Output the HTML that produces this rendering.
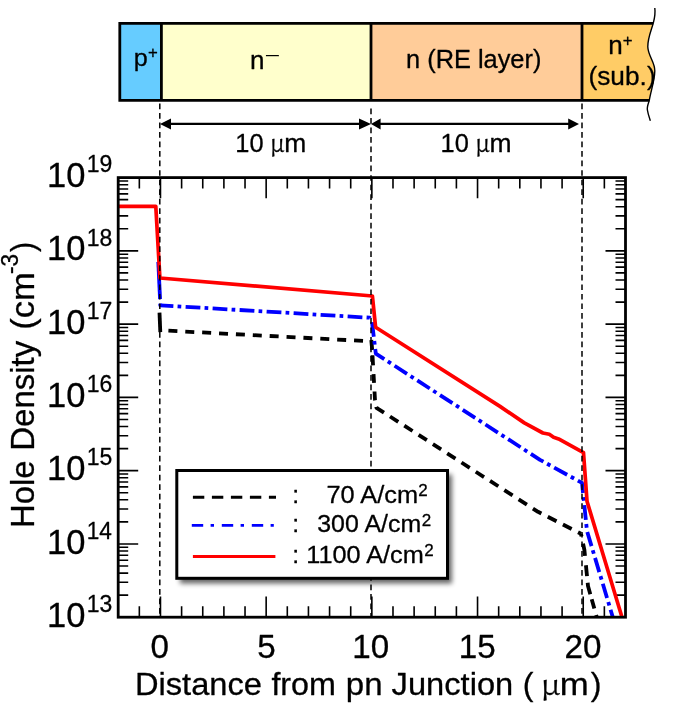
<!DOCTYPE html>
<html><head><meta charset="utf-8"><title>Hole Density vs Distance from pn Junction</title>
<style>
html,body{margin:0;padding:0;background:#fff;}
svg{display:block}
text{font-family:"Liberation Sans",Arial,sans-serif;fill:#000;stroke:#000;stroke-width:0.3px;stroke-linejoin:round}
.mu{font-family:"Noto Serif CJK SC","Liberation Serif",serif;stroke-width:0.3px}
</style></head><body>
<svg width="700" height="703" viewBox="0 0 700 703">
<defs>
<filter id="sh" x="-10%" y="-10%" width="130%" height="140%"><feGaussianBlur stdDeviation="2.4"/></filter>
</defs>
<rect width="700" height="703" fill="#fff"/>

<g id="structure">
<rect x="119.8" y="23.4" width="41.6" height="77.0" fill="#66ccff"/>
<rect x="161" y="23.4" width="210" height="77.0" fill="#ffffcc"/>
<rect x="371" y="23.4" width="211" height="77.0" fill="#ffcc99"/>
<path d="M582,23.4 L653.2,23.4 C651.5,30 647.6,38 647.8,46.8 C648,56 655,62 654.8,71 C654.6,81 650.5,92 649.3,100.4 L582,100.4 Z" fill="#ffcc66"/>
<path d="M653.2,23.4 L119.8,23.4 L119.8,100.4 L649.3,100.4" fill="none" stroke="#000" stroke-width="2.8" stroke-linejoin="miter"/>
<line x1="161.4" y1="23.4" x2="161.4" y2="100.4" stroke="#000" stroke-width="2.8"/>
<line x1="371" y1="23.4" x2="371" y2="100.4" stroke="#000" stroke-width="2.8"/>
<line x1="582" y1="23.4" x2="582" y2="100.4" stroke="#000" stroke-width="2.8"/>
<path d="M654.8,8 C655.6,14 654.6,18 653.4,22.6 C651.5,30 647.6,38 647.8,46.8 C648,56 655,62 654.8,71 C654.6,81 650.5,92 649.3,100.4 C648.2,104 646.8,107 647.4,110 C648,114 649.5,118 650.4,120.8" fill="none" stroke="#000" stroke-width="1.4"/>
<text transform="translate(133.83,66) scale(1.0186,1)" font-size="24.7">p</text>
<text x="148.11" y="58.2" font-size="16.8">+</text>
<text x="249.88" y="69.4" font-size="26">n</text>
<text transform="translate(266,60.1) scale(1.2840,1)" font-size="18" style="stroke-width:0.1px">–</text>
<text transform="translate(406.01,67.7) scale(1.0153,1)" font-size="25">n (RE layer)</text>
<text transform="translate(608.27,53.9) scale(1.0299,1)" font-size="25.3">n</text>
<text x="622.81" y="46.3" font-size="16.8">+</text>
<text transform="translate(588.47,85.2) scale(1.0431,1)" font-size="25.2">(sub.)</text>
</g>
<g id="dims">
<line x1="168" y1="123.9" x2="363" y2="123.9" stroke="#000" stroke-width="2.3"/><path d="M160,123.9 l11,-5.5 v11 Z M371,123.9 l-12,-5.5 v11 Z" fill="#000"/>
<line x1="379" y1="123.9" x2="571" y2="123.9" stroke="#000" stroke-width="2.3"/><path d="M371,123.9 l9.6,-5.5 v11 Z M579,123.9 l-10.8,-5.5 v11 Z" fill="#000"/>
<text x="235.28" y="152" font-size="25.4">10</text>
<text class="mu" transform="translate(270,152.1) scale(0.9697,1)" font-size="24.2">μ</text>
<text transform="translate(284.15,152) scale(1.0407,1)" font-size="25.4">m</text>
<text x="440.58" y="152" font-size="25.4">10</text>
<text class="mu" transform="translate(475.3,152.1) scale(0.9697,1)" font-size="24.2">μ</text>
<text transform="translate(489.45,152) scale(1.0407,1)" font-size="25.4">m</text>
</g>
<g id="ticks" stroke="#000" stroke-width="1.6" fill="none">
<path d="M139.34,617.2v-11M139.34,177.6v11M160.47,617.2v-20.6M160.47,177.6v20.6M181.61,617.2v-11M181.61,177.6v11M202.75,617.2v-11M202.75,177.6v11M223.89,617.2v-11M223.89,177.6v11M245.03,617.2v-11M245.03,177.6v11M266.16,617.2v-20.6M266.16,177.6v20.6M287.3,617.2v-11M287.3,177.6v11M308.44,617.2v-11M308.44,177.6v11M329.57,617.2v-11M329.57,177.6v11M350.71,617.2v-11M350.71,177.6v11M371.85,617.2v-20.6M371.85,177.6v20.6M392.99,617.2v-11M392.99,177.6v11M414.12,617.2v-11M414.12,177.6v11M435.26,617.2v-11M435.26,177.6v11M456.4,617.2v-11M456.4,177.6v11M477.54,617.2v-20.6M477.54,177.6v20.6M498.67,617.2v-11M498.67,177.6v11M519.81,617.2v-11M519.81,177.6v11M540.95,617.2v-11M540.95,177.6v11M562.09,617.2v-11M562.09,177.6v11M583.23,617.2v-20.6M583.23,177.6v20.6M604.36,617.2v-11M604.36,177.6v11M118.2,595.14h10M625.5,595.14h-10M118.2,582.24h10M625.5,582.24h-10M118.2,573.09h10M625.5,573.09h-10M118.2,565.99h10M625.5,565.99h-10M118.2,560.19h10M625.5,560.19h-10M118.2,555.28h10M625.5,555.28h-10M118.2,551.03h10M625.5,551.03h-10M118.2,547.29h10M625.5,547.29h-10M118.2,543.93h20M625.5,543.93h-20M118.2,521.88h10M625.5,521.88h-10M118.2,508.98h10M625.5,508.98h-10M118.2,499.82h10M625.5,499.82h-10M118.2,492.72h10M625.5,492.72h-10M118.2,486.92h10M625.5,486.92h-10M118.2,482.02h10M625.5,482.02h-10M118.2,477.77h10M625.5,477.77h-10M118.2,474.02h10M625.5,474.02h-10M118.2,470.67h20M625.5,470.67h-20M118.2,448.61h10M625.5,448.61h-10M118.2,435.71h10M625.5,435.71h-10M118.2,426.56h10M625.5,426.56h-10M118.2,419.46h10M625.5,419.46h-10M118.2,413.65h10M625.5,413.65h-10M118.2,408.75h10M625.5,408.75h-10M118.2,404.5h10M625.5,404.5h-10M118.2,400.75h10M625.5,400.75h-10M118.2,397.4h20M625.5,397.4h-20M118.2,375.34h10M625.5,375.34h-10M118.2,362.44h10M625.5,362.44h-10M118.2,353.29h10M625.5,353.29h-10M118.2,346.19h10M625.5,346.19h-10M118.2,340.39h10M625.5,340.39h-10M118.2,335.48h10M625.5,335.48h-10M118.2,331.23h10M625.5,331.23h-10M118.2,327.49h10M625.5,327.49h-10M118.2,324.13h20M625.5,324.13h-20M118.2,302.08h10M625.5,302.08h-10M118.2,289.18h10M625.5,289.18h-10M118.2,280.02h10M625.5,280.02h-10M118.2,272.92h10M625.5,272.92h-10M118.2,267.12h10M625.5,267.12h-10M118.2,262.22h10M625.5,262.22h-10M118.2,257.97h10M625.5,257.97h-10M118.2,254.22h10M625.5,254.22h-10M118.2,250.87h20M625.5,250.87h-20M118.2,228.81h10M625.5,228.81h-10M118.2,215.91h10M625.5,215.91h-10M118.2,206.76h10M625.5,206.76h-10M118.2,199.66h10M625.5,199.66h-10M118.2,193.85h10M625.5,193.85h-10M118.2,188.95h10M625.5,188.95h-10M118.2,184.7h10M625.5,184.7h-10M118.2,180.95h10M625.5,180.95h-10"/>
</g>
<g id="curves" fill="none" stroke-linejoin="round">
<g stroke="#000" stroke-width="3.8">
<path d="M159.5,312.6 L160.3,332.2"/>
<path d="M168.4,330.7 L370.8,341.3" stroke-dasharray="9 7.9"/>
<path d="M371.3,340 L372.2,350 L375,400 L376.4,407.3" stroke-dasharray="10 5.3 10.2 8.7 8.7 8.7 8.8 7 20"/>
<path d="M376.3,406.9 L376.5,407.8 L538,511.8 L581,533.8" stroke-dasharray="9.8 7.2"/>
<path d="M581,533.8 L584.4,550 L588,586 L596.8,617.2" stroke-dasharray="2.7 7.3 12.4 9.5 10.9 6.7 11.7 5.2 9.6 6.8 10 50"/>
</g>
<path d="M160.2,303.6 L160.3,305.3 L369.6,317.7 L372,322 L375.8,353.6 L540,459.8 L582,482.9 L587,531 L612.8,617.2" stroke="#0000ff" stroke-width="3.8" stroke-dasharray="14.8 4.2 3.7 4.35"/>
<path d="M158.3,262 L160.05,299.2" stroke="#0000ff" stroke-width="3.8"/>
<path d="M118.2,206.4 L155.8,206.4 L159.9,278 L372.4,296 L375.6,327.2 L500,406.4 L524.3,422.9 L542.9,433 L549.3,434.2 L553.6,437.2 L558.6,438.9 L583.5,452.6 L587,501.2 L622,617.2" stroke="#ff0000" stroke-width="3.7"/>
</g>
<g id="guides" stroke="#000" stroke-width="1.5" stroke-dasharray="5.7 3.82" fill="none">
<line x1="159.8" y1="103.5" x2="159.8" y2="617.2"/>
<line x1="371" y1="108.5" x2="371" y2="617.2"/>
<line x1="582" y1="103.5" x2="582" y2="617.2"/>
</g>
<rect x="118.2" y="177.6" width="507.3" height="439.6" fill="none" stroke="#000" stroke-width="2.8"/>
<g id="legend">
<rect x="180" y="474.5" width="272" height="109" fill="#000" opacity="0.6" filter="url(#sh)"/>
<rect x="176.8" y="470.5" width="270.7" height="107.8" fill="#fff" stroke="#000" stroke-width="3"/>
<line x1="192.9" y1="497.2" x2="276" y2="497.2" stroke="#000" stroke-width="3" stroke-dasharray="11.4 7.6"/>
<line x1="191.8" y1="525.3" x2="273.8" y2="525.3" stroke="#0000ff" stroke-width="2.8" stroke-dasharray="11.4 7.4 3.4 7.8"/>
<line x1="192.9" y1="556.4" x2="275.4" y2="556.4" stroke="#ff0000" stroke-width="3"/>
<text x="292.13" y="502.6" font-size="24.6">:</text>
<text transform="translate(326.41,502.6) scale(1.0330,1)" font-size="24.6">70 A/cm</text>
<text x="418.23" y="496" font-size="17">2</text>
<text x="292.13" y="532.1" font-size="24.6">:</text>
<text transform="translate(317.22,532.1) scale(1.0140,1)" font-size="24.6">300 A/cm</text>
<text x="421.63" y="525.5" font-size="17">2</text>
<text x="292.13" y="563" font-size="24.6">:</text>
<text transform="translate(306.22,563) scale(1.0287,1)" font-size="24.6">1100 A/cm</text>
<text x="424.23" y="556.4" font-size="17">2</text>
</g>
<g id="ylabels">
<text x="47.08" y="626.8" font-size="34.5">10</text>
<text transform="translate(86.76,611.9) scale(0.9740,1)" font-size="23.6">13</text>
<text x="47.08" y="553.53" font-size="34.5">10</text>
<text transform="translate(86.79,538.63) scale(0.9592,1)" font-size="23.6">14</text>
<text x="47.08" y="480.27" font-size="34.5">10</text>
<text transform="translate(86.76,465.37) scale(0.9740,1)" font-size="23.6">15</text>
<text x="47.08" y="407" font-size="34.5">10</text>
<text transform="translate(86.76,392.1) scale(0.9740,1)" font-size="23.6">16</text>
<text x="47.08" y="333.73" font-size="34.5">10</text>
<text transform="translate(86.76,318.83) scale(0.9740,1)" font-size="23.6">17</text>
<text x="47.08" y="260.47" font-size="34.5">10</text>
<text transform="translate(86.76,245.57) scale(0.9740,1)" font-size="23.6">18</text>
<text x="47.08" y="187.2" font-size="34.5">10</text>
<text transform="translate(86.76,172.3) scale(0.9740,1)" font-size="23.6">19</text>
</g>
<g id="xlabels">
<text x="150.41" y="657.5" font-size="33.2">0</text>
<text x="257.17" y="657.5" font-size="33.2">5</text>
<text x="352.3" y="657.5" font-size="33.2">10</text>
<text x="458.72" y="657.5" font-size="33.2">15</text>
<text x="564.5" y="657.5" font-size="33.2">20</text>
</g>
<g id="xtitle">
<text transform="translate(134.95,695) scale(1.0143,1)" font-size="32.2">Distance</text>
<text transform="translate(271.4,695) scale(1.0027,1)" font-size="32.2">from</text>
<text transform="translate(345.84,695) scale(1.0251,1)" font-size="32.2">pn</text>
<text transform="translate(391.59,695) scale(1.0143,1)" font-size="32.2">Junction</text>
<text class="mu" transform="translate(540.65,695.3) scale(1.0650,1)" font-size="29.5">μ</text>
<text transform="translate(559.83,695) scale(1.0802,1)" font-size="32.2">m</text>
<text x="590.8" y="695" font-size="32.2">)</text>
<text x="522.79" y="695" font-size="32.2">(</text>
</g>
<g id="ytitle">
<text transform="translate(34,528.07) rotate(-90) scale(0.9960,1)" font-size="33">Hole</text>
<text transform="translate(34,450.78) rotate(-90)" font-size="33">Density</text>
<text transform="translate(34,329.82) rotate(-90) scale(1.0459,1)" font-size="33">(cm</text>
<text transform="translate(17.8,274.11) rotate(-90) scale(0.9841,1)" font-size="23">-3</text>
<text transform="translate(34,252) rotate(-90) scale(0.9158,1)" font-size="33">)</text>
</g>
</svg>
</body></html>
